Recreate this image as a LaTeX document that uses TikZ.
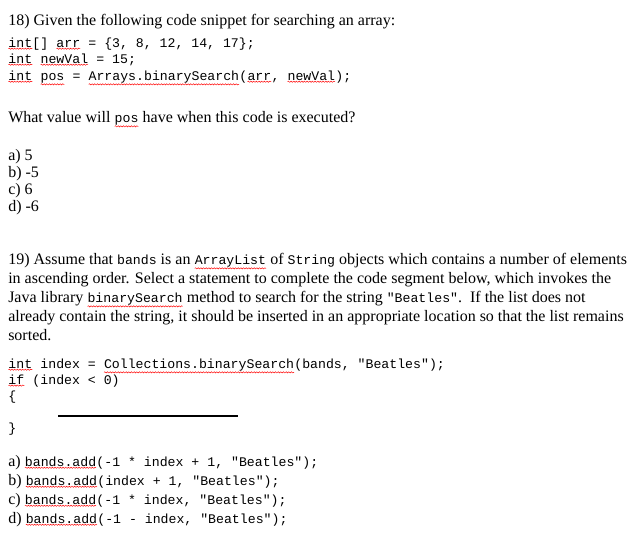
\documentclass[tikz,border=0pt]{standalone}
\usepackage{fontspec}
\setmainfont{Liberation Serif}
\setmonofont{Liberation Mono}
\usetikzlibrary{decorations.pathmorphing}
\newcommand\sq[1]{\tikz[baseline=(sqw.base)]{\node[inner sep=0pt,outer sep=0pt,anchor=base] (sqw) {#1};
  \draw[red,line width=0.35pt,decorate,decoration={snake,amplitude=0.45pt,segment length=2pt}] ([yshift=-1.2pt]sqw.south west) -- ([yshift=-1.2pt]sqw.south east);}}
\newcommand\cd[1]{{\fontsize{9.9pt}{12pt}\ttfamily #1}}
\begin{document}
\begin{tikzpicture}[x=0.75pt,y=-0.75pt,
  txt/.style={anchor=base west,inner sep=0,font=\fontsize{12pt}{14pt}\selectfont},
  code/.style={anchor=base west,inner sep=0,font=\fontsize{9.9pt}{12pt}\ttfamily}]
\useasboundingbox[fill=white] (0,0) rectangle (631,537);
\node[txt] (t1) at (8,25) {18) Given the following code snippet for searching an array:};
\node[code] (c1) at (8,47) {\sq{int}[] \sq{arr} = \{3, 8, 12, 14, 17\};};
\node[code] (c2) at (8,63) {\sq{int} \sq{newVal} = 15;};
\node[code] (c3) at (8,80) {\sq{int} \sq{pos} = \sq{Arrays.binarySearch}(\sq{arr}, \sq{newVal});};
\node[txt] (q) at (8,122) {What value will \cd{\sq{pos}} have when this code is executed?};
\node[txt] (a1) at (8,160) {a) 5};
\node[txt] (a2) at (8,177) {b) -5};
\node[txt] (a3) at (8,194) {c) 6};
\node[txt] (a4) at (8,211) {d) -6};
\node[txt] (p1) at (8,264) {19) Assume that \cd{bands} is an \cd{\sq{ArrayList}} of \cd{String} objects which contains a number of elements};
\node[txt] (p2) at (8,283) {in ascending order. Select a statement to complete the code segment below, which invokes the};
\node[txt] (p3) at (8,302) {Java library \cd{\sq{binarySearch}} method to search for the string \cd{"Beatles"}.\ \ If the list does not};
\node[txt] (p4) at (8,321) {already contain the string, it should be inserted in an appropriate location so that the list remains};
\node[txt] (p5) at (8,340) {sorted.};
\node[code] (d1) at (8,368) {\sq{int} index = \sq{Collections.binarySearch}(bands, "Beatles");};
\node[code] (d2) at (8,384) {\sq{if} (index < 0)};
\node[code] (d3) at (8,400) {\{};
\coordinate (l1) at (58,416);
\coordinate (l2) at (238,416);
\draw[line width=0.8pt] (l1) -- (l2);
\node[code] (d4) at (8,432) {\}};
\node[txt] (b1) at (8,466) {a) \cd{\sq{bands.add}(-1 * index + 1, "Beatles");}};
\node[txt] (b2) at (8,485) {b) \cd{\sq{bands.add}(index + 1, "Beatles");}};
\node[txt] (b3) at (8,504) {c) \cd{\sq{bands.add}(-1 * index, "Beatles");}};
\node[txt] (b4) at (8,523) {d) \cd{\sq{bands.add}(-1 - index, "Beatles");}};
\end{tikzpicture}
\end{document}
